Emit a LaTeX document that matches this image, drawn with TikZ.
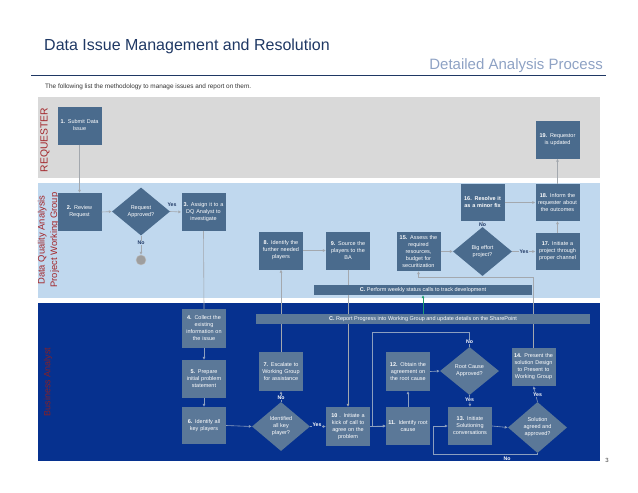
\documentclass[tikz,border=0pt]{standalone}
\usepackage{fontspec}
\setmainfont{Liberation Sans}
\usetikzlibrary{shapes.geometric,arrows.meta}
\definecolor{navy}{HTML}{1F3864}
\definecolor{subt}{HTML}{8EA2C4}
\definecolor{laneA}{HTML}{D9D9D9}
\definecolor{laneB}{HTML}{C0D8EE}
\definecolor{laneC}{HTML}{06318F}
\definecolor{boxA}{HTML}{4A6B8D}
\definecolor{boxC}{HTML}{5B7898}
\definecolor{connA}{HTML}{A3A8AE}
\definecolor{connC}{HTML}{8C9FBF}
\definecolor{lanered}{HTML}{A3262A}
\definecolor{greenarr}{HTML}{1E9E6E}
\begin{document}
\begin{tikzpicture}[x=1pt,y=-1pt,
  boxtxt/.style={font=\fontsize{5.5}{7}\selectfont},
  stepbox/.style={boxtxt, fill=boxA, text=white, align=center, minimum width=43pt, minimum height=38pt, inner sep=0.5pt, text width=43pt},
  stepboxc/.style={stepbox, fill=boxC},
  dia/.style={boxtxt, diamond, fill=boxA, text=white, align=center, minimum width=58pt, minimum height=48pt, inner sep=0pt},
  diac/.style={dia, fill=boxC},
  bar/.style={boxtxt, fill=boxA, text=white, minimum height=10pt, inner sep=0pt},
  barc/.style={bar, fill=boxC},
  conn/.style={draw=connA, line width=0.6pt, -{Latex[length=3pt,width=3pt]}},
  connc/.style={conn, draw=connC},
  plain/.style={draw=connA, line width=0.6pt},
  lbl/.style={font=\bfseries\fontsize{5.2}{6}\selectfont, text=navy, inner sep=0.6pt},
  lblc/.style={lbl, text=white},
  lanelbl/.style={rotate=90, text=lanered, align=center}
]
\useasboundingbox (0,0) rectangle (638,493);

% header
\node[anchor=base west, font=\fontsize{16}{19}\selectfont, text=navy, inner sep=0pt] (title) at (44,50) {Data Issue Management and Resolution};
\node[anchor=base east, font=\fontsize{15}{18}\selectfont, text=subt, inner sep=0pt] (subtitle) at (603,69) {Detailed Analysis Process};
\draw[navy, line width=1.3pt] (31,75.5) -- (606,75.5);
\node[anchor=base west, font=\fontsize{6.4}{7}\selectfont, text=black!80, inner sep=0pt] (intro) at (45,88) {The following list the methodology to manage issues and report on them.};

% lanes
\fill[laneA] (38,97) rectangle (600,178);
\fill[laneB] (38,183) rectangle (600,298);
\fill[laneC] (38,303) rectangle (600,461);
\node[lanelbl, font=\fontsize{10.3}{12}\selectfont] (l1) at (45,140) {REQUESTER};
\node[lanelbl, font=\fontsize{9.4}{12.5}\selectfont] (l2) at (48.5,240) {Data Quality Analysis\\Project Working Group};
\node[lanelbl, font=\fontsize{9}{11}\selectfont, text=lanered!85!black] (l3) at (48,382) {Business Analyst};

% nodes lane 1
\node[stepbox] (n1) at (79.5,125.5) {\textbf{1.} Submit Data\\Issue};
\node[stepbox] (n19) at (557.5,139.5) {\textbf{19.} Requestor\\is updated};

% nodes lane 2
\node[stepbox] (n2) at (79.5,212) {\textbf{2.} Review\\Request};
\node[dia] (d1) at (141,211.5) {Request\\Approved?};
\node[stepbox] (n3) at (203.5,212) {\textbf{3.} Assign it to a\\DQ Analyst to\\investigate};
\node[circle, fill=black!38, draw=black!25, minimum size=10pt, inner sep=0pt] (end) at (141,260) {};
\node[stepbox] (n8) at (281,250.5) {\textbf{8.} Identify the\\further needed\\players};
\node[stepbox] (n9) at (348,250.5) {\textbf{9.} Source the\\players to the\\BA};
\node[stepbox, minimum height=39pt] (n15) at (418.5,251.5) {\textbf{15.} Assess the\\required\\resources,\\budget for\\securitization};
\node[dia, minimum width=59pt, minimum height=49pt] (d5) at (482.5,251.5) {Big effort\\project?};
\node[stepbox, minimum height=37pt] (n16) at (482.5,202.5) {\textbf{16. Resolve it\\as a minor fix}};
\node[stepbox, minimum height=37pt] (n18) at (557.5,202.5) {\textbf{18.} Inform the\\requester about\\the outcomes};
\node[stepbox, minimum height=37pt] (n17) at (557.5,251.5) {\textbf{17.} Initiate a\\project through\\proper channel};

% nodes lane 3
\node[stepboxc, minimum height=39pt] (n4) at (204,328.5) {\textbf{4.} Collect the\\existing\\information on\\the issue};
\node[stepboxc] (n5) at (204,379) {\textbf{5.} Prepare\\initial problem\\statement};
\node[stepboxc, minimum height=37pt] (n6) at (204,425.5) {\textbf{6.} Identify all\\key players};
\node[diac, minimum height=49pt] (d2) at (281,426.5) {Identified\\all key\\player?};
\node[stepboxc, minimum height=39pt] (n7) at (281,371.5) {\textbf{7.} Escalate to\\Working Group\\for assistance};
\node[stepboxc, minimum height=39pt] (n10) at (348,426.5) {\textbf{10} . Initiate a\\kick of call to\\agree on the\\problem};
\node[stepboxc] (n11) at (408,426) {\textbf{11.} Identify root\\cause};
\node[stepboxc, minimum height=39pt] (n12) at (408,371.5) {\textbf{12.} Obtain the\\agreement on\\the root cause};
\node[diac, minimum width=59pt] (d3) at (469.5,371) {Root Cause\\Approved?};
\node[stepboxc] (n13) at (470,426) {\textbf{13.} Initiate\\Solutioning\\conversations};
\node[diac, minimum width=59pt, minimum height=51pt] (d4) at (537.5,427.5) {Solution\\agreed and\\approved?};
\node[stepboxc] (n14) at (533.5,367) {\textbf{14.} Present the\\solution Design\\to Present to\\Working Group};

% helper coordinates
\coordinate (k1) at (372,332);
\coordinate (k2) at (433,454);
\coordinate (k3) at (418.5,277);

% connectors lane 1/2
\draw[conn] (n1.south) -- (n2.north);
\draw[conn] (n2.east) -- (d1.west);
\draw[conn] (d1.east) -- (n3.west);
\draw[conn] (d1.south) -- (end.north);
\draw[plain] (n3.south) -- (n4.north);
\draw[conn] (n8.east) -- (n9.west);
\draw[conn] (n15.east) -- (d5.west);
\draw[conn] (d5.north) -- (n16.south);
\draw[conn] (d5.east) -- (n17.west);
\draw[conn] (n16.east) -- (n18.west);
\draw[conn] (n17.north) -- (n18.south);
\draw[conn] (n18.north) -- (n19.south);
\draw[conn] (n7.north) -- (n8.south);
\draw[conn] (n9.south) -- (n10.north);
\draw[conn] (n14.north) |- (k3) -- (n15.south);

% connectors lane 3
\draw[connc] (n4.south) -- (n5.north);
\draw[connc] (n5.south) -- (n6.north);
\draw[connc] (n6.east) -- (d2.west);
\draw[connc] (d2.north) -- (n7.south);
\draw[connc] (d2.east) -- (n10.west);
\draw[connc] (n10.east) -- (n11.west);
\draw[connc] (d3.north) |- (k1) |- (n11.west);
\draw[connc] (n11.north) -- (n12.south);
\draw[connc] (n12.east) -- (d3.west);
\draw[connc] (d3.south) -- (n13.north);
\draw[connc] (n13.east) -- (d4.west);
\draw[connc] (d4.north) -- (n14.south);
\draw[connc] (d4.south) |- (k2) |- (n13.west);

% bars
\node[bar, minimum width=218pt] (bar1) at (423,290) {\textbf{C.} Perform weekly status calls to track development};
\node[barc, minimum width=334pt] (bar2) at (423,319) {\textbf{C.} Report Progress into Working Group and update details on the SharePoint};
\draw[draw=greenarr, line width=0.8pt, -{Latex[length=3pt,width=3pt]}] (bar2.north) -- (bar1.south);

% labels
\node[lbl] (y1) at (172,205) {Yes};
\node[lbl, fill=laneB] (no1) at (141,243) {No};
\node[lbl, fill=laneB] (no5) at (482.5,225) {No};
\node[lbl, fill=laneB] (y5) at (524,252) {Yes};
\node[lblc, fill=laneC] (no2) at (281,398) {No};
\node[lblc, fill=laneC] (y2) at (317,425) {Yes};
\node[lblc, fill=laneC] (no3) at (469.5,342) {No};
\node[lblc, fill=laneC] (y3) at (469.5,400) {Yes};
\node[lblc, fill=laneC] (y4) at (537.5,395) {Yes};
\node[lblc] (no4) at (507,458.5) {No};

\node[font=\fontsize{6}{7}\selectfont, text=black!75] (page) at (607,460) {3};
\end{tikzpicture}
\end{document}
